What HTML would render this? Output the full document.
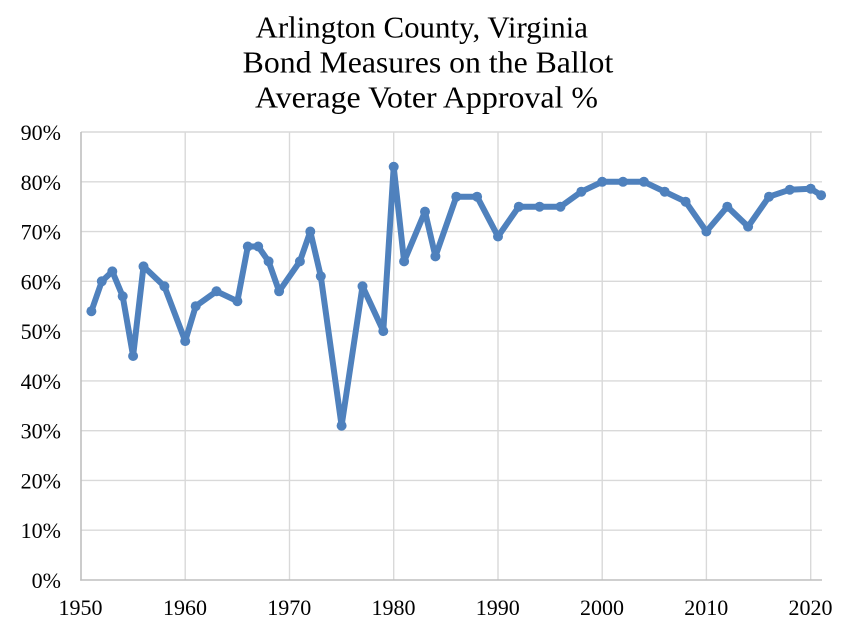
<!DOCTYPE html>
<html>
<head>
<meta charset="utf-8">
<style>
html,body{margin:0;padding:0;background:#fff;}
svg{display:block;}
text{font-family:"Liberation Serif","Times New Roman",serif;fill:#000;}
</style>
</head>
<body>
<svg width="851" height="631" viewBox="0 0 851 631" xmlns="http://www.w3.org/2000/svg">
<rect width="851" height="631" fill="#fff"/>
<text x="255.5" y="37.4" font-size="30.5" textLength="332.5" lengthAdjust="spacingAndGlyphs">Arlington County, Virginia</text>
<text x="242.7" y="72.7" font-size="30.5" textLength="370.6" lengthAdjust="spacingAndGlyphs">Bond Measures on the Ballot</text>
<text x="255" y="107.6" font-size="30.5" textLength="343" lengthAdjust="spacingAndGlyphs">Average Voter Approval %</text>
<g stroke="#d9d9d9" stroke-width="1.4">
<line x1="81" y1="132" x2="822" y2="132"/>
<line x1="81" y1="181.8" x2="822" y2="181.8"/>
<line x1="81" y1="231.6" x2="822" y2="231.6"/>
<line x1="81" y1="281.3" x2="822" y2="281.3"/>
<line x1="81" y1="331.1" x2="822" y2="331.1"/>
<line x1="81" y1="380.9" x2="822" y2="380.9"/>
<line x1="81" y1="430.7" x2="822" y2="430.7"/>
<line x1="81" y1="480.4" x2="822" y2="480.4"/>
<line x1="81" y1="530.2" x2="822" y2="530.2"/>
<line x1="185.2" y1="132" x2="185.2" y2="580"/>
<line x1="289.5" y1="132" x2="289.5" y2="580"/>
<line x1="393.7" y1="132" x2="393.7" y2="580"/>
<line x1="498" y1="132" x2="498" y2="580"/>
<line x1="602.2" y1="132" x2="602.2" y2="580"/>
<line x1="706.4" y1="132" x2="706.4" y2="580"/>
<line x1="810.7" y1="132" x2="810.7" y2="580"/>
</g>
<g stroke="#bfbfbf" stroke-width="1.6">
<line x1="81" y1="132" x2="81" y2="580.6"/>
<line x1="80.2" y1="580" x2="822" y2="580"/>
</g>
<g font-size="22" text-anchor="end">
<text x="61" y="140">90%</text>
<text x="61" y="189.8">80%</text>
<text x="61" y="239.6">70%</text>
<text x="61" y="289.3">60%</text>
<text x="61" y="339.1">50%</text>
<text x="61" y="388.9">40%</text>
<text x="61" y="438.7">30%</text>
<text x="61" y="488.4">20%</text>
<text x="61" y="538.2">10%</text>
<text x="61" y="588">0%</text>
</g>
<g font-size="22" text-anchor="middle">
<text x="80.5" y="615">1950</text>
<text x="185" y="615">1960</text>
<text x="289.3" y="615">1970</text>
<text x="393.5" y="615">1980</text>
<text x="497.8" y="615">1990</text>
<text x="602" y="615">2000</text>
<text x="706.2" y="615">2010</text>
<text x="810.5" y="615">2020</text>
</g>
<polyline fill="none" stroke="#4f81bd" stroke-width="6" stroke-linejoin="round" stroke-linecap="round" points="91.4,311.2 101.8,281.3 112.3,271.4 122.7,296.3 133.1,356 143.5,266.4 164.4,286.3 185.2,341.1 195.7,306.2 216.5,291.3 237.4,301.2 247.8,246.5 258.2,246.5 268.6,261.4 279.1,291.3 299.9,261.4 310.3,231.5 320.8,276.3 341.6,425.7 362.5,286.3 383.3,331.1 393.7,166.8 404.1,261.4 425,211.6 435.4,256.4 456.3,196.7 477.1,196.7 498,236.5 518.8,206.7 539.6,206.7 560.5,206.7 581.3,191.7 602.2,181.8 623,181.8 643.9,181.8 664.7,191.7 685.6,201.7 706.4,231.5 727.3,206.7 748.1,226.6 769,196.7 789.8,189.7 810.7,188.7 821.1,195.2"/>
<g fill="#4f81bd">
<circle cx="91.4" cy="311.2" r="5"/>
<circle cx="101.8" cy="281.3" r="5"/>
<circle cx="112.3" cy="271.4" r="5"/>
<circle cx="122.7" cy="296.3" r="5"/>
<circle cx="133.1" cy="356" r="5"/>
<circle cx="143.5" cy="266.4" r="5"/>
<circle cx="164.4" cy="286.3" r="5"/>
<circle cx="185.2" cy="341.1" r="5"/>
<circle cx="195.7" cy="306.2" r="5"/>
<circle cx="216.5" cy="291.3" r="5"/>
<circle cx="237.4" cy="301.2" r="5"/>
<circle cx="247.8" cy="246.5" r="5"/>
<circle cx="258.2" cy="246.5" r="5"/>
<circle cx="268.6" cy="261.4" r="5"/>
<circle cx="279.1" cy="291.3" r="5"/>
<circle cx="299.9" cy="261.4" r="5"/>
<circle cx="310.3" cy="231.5" r="5"/>
<circle cx="320.8" cy="276.3" r="5"/>
<circle cx="341.6" cy="425.7" r="5"/>
<circle cx="362.5" cy="286.3" r="5"/>
<circle cx="383.3" cy="331.1" r="5"/>
<circle cx="393.7" cy="166.8" r="5"/>
<circle cx="404.1" cy="261.4" r="5"/>
<circle cx="425" cy="211.6" r="5"/>
<circle cx="435.4" cy="256.4" r="5"/>
<circle cx="456.3" cy="196.7" r="5"/>
<circle cx="477.1" cy="196.7" r="5"/>
<circle cx="498" cy="236.5" r="5"/>
<circle cx="518.8" cy="206.7" r="5"/>
<circle cx="539.6" cy="206.7" r="5"/>
<circle cx="560.5" cy="206.7" r="5"/>
<circle cx="581.3" cy="191.7" r="5"/>
<circle cx="602.2" cy="181.8" r="5"/>
<circle cx="623" cy="181.8" r="5"/>
<circle cx="643.9" cy="181.8" r="5"/>
<circle cx="664.7" cy="191.7" r="5"/>
<circle cx="685.6" cy="201.7" r="5"/>
<circle cx="706.4" cy="231.5" r="5"/>
<circle cx="727.3" cy="206.7" r="5"/>
<circle cx="748.1" cy="226.6" r="5"/>
<circle cx="769" cy="196.7" r="5"/>
<circle cx="789.8" cy="189.7" r="5"/>
<circle cx="810.7" cy="188.7" r="5"/>
<circle cx="821.1" cy="195.2" r="5"/>
</g>
</svg>
</body>
</html>
